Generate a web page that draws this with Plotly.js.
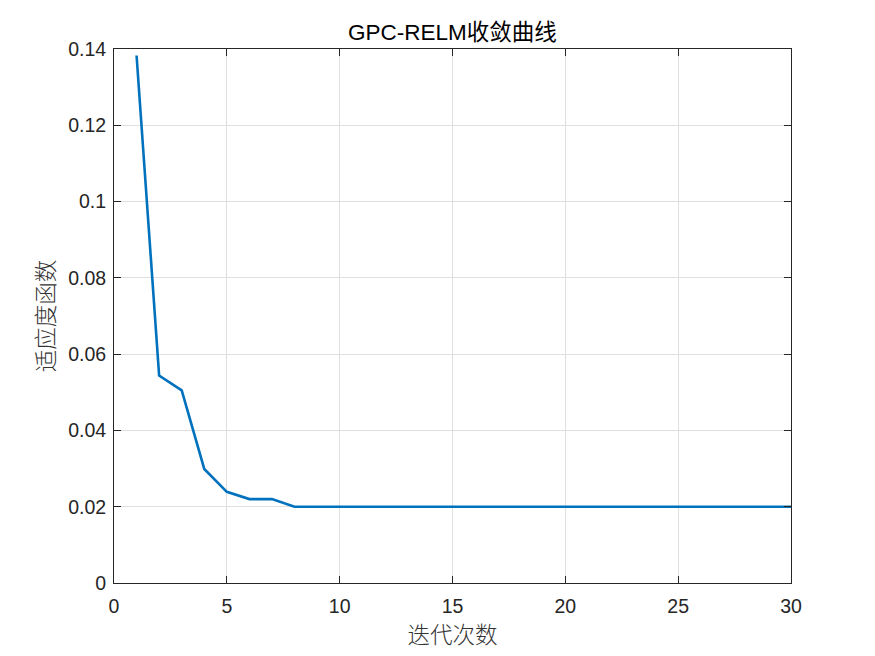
<!DOCTYPE html>
<html>
<head>
<meta charset="utf-8">
<script src="https://cdn.plot.ly/plotly-3.0.1.min.js"></script>
<style>
  html, body { margin: 0; padding: 0; background: #ffffff; }
  #chart { width: 875px; height: 656px; }
</style>
</head>
<body>
<div id="chart"></div>
<script>
// GPC-RELM convergence curve: best fitness per iteration

const iterations = [1, 2, 3, 4, 5, 6, 7, 8, 9, 10,
                    11, 12, 13, 14, 15, 16, 17, 18, 19, 20,
                    21, 22, 23, 24, 25, 26, 27, 28, 29, 30];

const fitness = [0.1383, 0.0544, 0.0505, 0.0299, 0.0239, 0.0220, 0.0220, 0.0200, 0.0200, 0.0200,
                 0.0200, 0.0200, 0.0200, 0.0200, 0.0200, 0.0200, 0.0200, 0.0200, 0.0200, 0.0200,
                 0.0200, 0.0200, 0.0200, 0.0200, 0.0200, 0.0200, 0.0200, 0.0200, 0.0200, 0.0200];

const xTicks = [0, 5, 10, 15, 20, 25, 30];
const yTicks = [0, 0.02, 0.04, 0.06, 0.08, 0.1, 0.12, 0.14];
const yTickText = ['0', '0.02', '0.04', '0.06', '0.08', '0.1', '0.12', '0.14'];

const titleText = 'GPC-RELM收敛曲线';
const xLabel = '迭代次数';
const yLabel = '适应度函数';

const INK = '#262626';
const SANS = 'Arial, "Liberation Sans", "Noto Sans CJK SC", sans-serif';
const CJK = '"Noto Sans CJK SC", "Noto Sans CJK JP", sans-serif';

function _axis(title, range, ticks, text, standoff) {
  return {
    title: { text: title, font: { family: CJK, size: 22.5, color: '#333333', weight: 300 }, standoff: standoff },
    range: range,
    tickmode: 'array',
    tickvals: ticks,
    ticktext: text,
    ticks: 'inside',
    ticklen: 7,
    tickwidth: 1,
    tickcolor: INK,
    tickfont: { family: SANS, size: 19.5, color: INK },
    showline: true,
    linecolor: INK,
    linewidth: 1,
    mirror: 'ticks',
    showgrid: true,
    gridcolor: '#dfdfdf',
    gridwidth: 1,
    zeroline: false,
    fixedrange: true,
  };
}

const traces = [
  {
    x: iterations, y: fitness,
    mode: 'lines',
    line: { color: '#0072BD', width: 2.6 },
    hoverinfo: 'skip',
  },
];

const layout = {
  width: 875,
  height: 656,
  margin: { l: 114, r: 84, t: 49, b: 73 },
  paper_bgcolor: '#ffffff',
  plot_bgcolor: '#ffffff',
  showlegend: false,
  title: {
    text: titleText,
    font: { family: SANS, size: 22.5, color: '#000000' },
    x: 0.5169, xanchor: 'center',
    y: 0.951, yanchor: 'middle',
  },
  xaxis: { ..._axis(xLabel, [0, 30], xTicks, xTicks.map(String), 10), ticklabelstandoff: 6 },
  yaxis: { ..._axis(yLabel, [0, 0.14], yTicks, yTickText, 7), ticklabelstandoff: 3 },
};

Plotly.newPlot('chart', traces, layout, { displayModeBar: false, staticPlot: true });
</script>
</body>
</html>
